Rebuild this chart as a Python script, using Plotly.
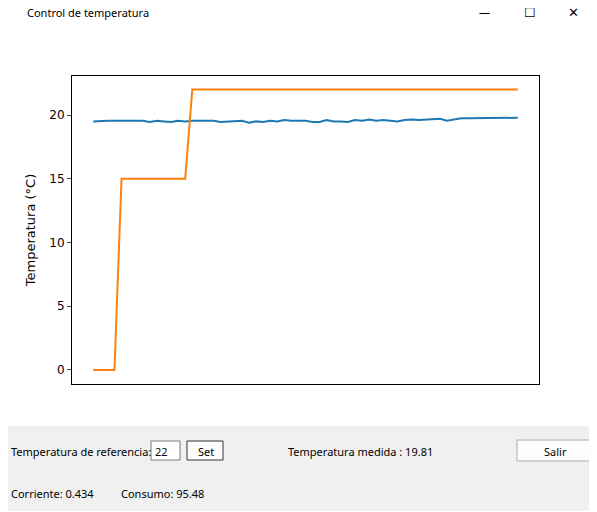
import plotly.graph_objects as go

# the page puts the figure at roughly (9, 7), so pixel positions are shifted back by that
DX, DY = 9, 7
W, H = 597 - DX - 2, 512 - DY - 2
L, R, T, B = 73 - DX, 540 - DX, 75 - DY, 383 - DY

measured = [19.5, 19.55, 19.55, 19.55, 19.55, 19.55, 19.6, 19.55, 19.45, 19.55,
            19.5, 19.45, 19.55, 19.5, 19.55, 19.55, 19.55, 19.55, 19.45, 19.5,
            19.5, 19.55, 19.4, 19.5, 19.45, 19.55, 19.5, 19.6, 19.55, 19.55,
            19.55, 19.45, 19.45, 19.6, 19.5, 19.5, 19.45, 19.6, 19.55, 19.65,
            19.55, 19.6, 19.55, 19.5, 19.6, 19.65, 19.6, 19.65, 19.7, 19.7,
            19.55, 19.65, 19.75, 19.75, 19.75, 19.8, 19.75, 19.75, 19.8, 19.78, 19.78]
reference = [0] * 4 + [15] * 10 + [22] * 47
x = list(range(len(measured)))
yticks = [0, 5, 10, 15, 20]

fig = go.Figure()
fig.add_trace(go.Scatter(x=x, y=measured, mode="lines", line=dict(color="#1f77b4", width=2)))
fig.add_trace(go.Scatter(x=x, y=reference, mode="lines", line=dict(color="#ff7f0e", width=2)))


def px(v):
    return (v - DX - L) / (R - L)


def py(v):
    return (B - (v - DY)) / (B - T)


shapes = [
    dict(type="rect", x0=px(0), x1=px(597), y0=py(425), y1=py(512), fillcolor="#f0f0f0", line_width=0, layer="below"),
    dict(type="rect", x0=px(152), x1=px(181), y0=py(440), y1=py(459), fillcolor="white", line=dict(color="#7a7a7a", width=1)),
    dict(type="rect", x0=px(188), x1=px(224), y0=py(440), y1=py(459), fillcolor="#fdfdfd", line=dict(color="#333", width=1)),
    dict(type="rect", x0=px(518), x1=px(591), y0=py(439), y1=py(460), fillcolor="#fdfdfd", line=dict(color="#adadad", width=1)),
]
for s in shapes:
    s.update(xref="paper", yref="paper")

texts = [
    (26, 12, "Control de temperatura", 11),
    (10, 450, "Temperatura de referencia:", 11),
    (154, 450, "22", 11),
    (197, 450, "Set", 11),
    (287, 450, "Temperatura medida : 19.81", 11),
    (543, 450, "Salir", 11),
    (10, 492, "Corriente: 0.434", 11),
    (120, 492, "Consumo: 95.48", 11),
    (478, 11, "—", 11),
    (523, 11, "☐", 13),
    (567, 11, "✕", 13),
]
annotations = [
    dict(x=px(tx), y=py(ty), xref="paper", yref="paper", text=t, showarrow=False,
         xanchor="left", yanchor="middle", font=dict(size=fs, color="black", family="Segoe UI, Noto Sans, sans-serif"))
    for tx, ty, t, fs in texts
]

fig.update_layout(
    width=W, height=H,
    margin=dict(l=L, r=W - R, t=T, b=H - B),
    paper_bgcolor="white", plot_bgcolor="white",
    showlegend=False,
    shapes=shapes, annotations=annotations,
    font=dict(family="DejaVu Sans", size=13, color="black"),
    xaxis=dict(range=[-3, 63], showticklabels=False, ticks="", showgrid=False, zeroline=False,
               showline=True, mirror=True, linecolor="black", linewidth=1),
    yaxis=dict(range=[-1.1, 23.06], tickvals=yticks, ticks="outside", ticklen=4, showgrid=False,
               zeroline=False, showline=True, mirror=True, linecolor="black", linewidth=1,
               title=dict(text="Temperatura (°C)", standoff=10, font=dict(size=13)), tickfont=dict(size=12)),
)
fig.write_html("out.html")
